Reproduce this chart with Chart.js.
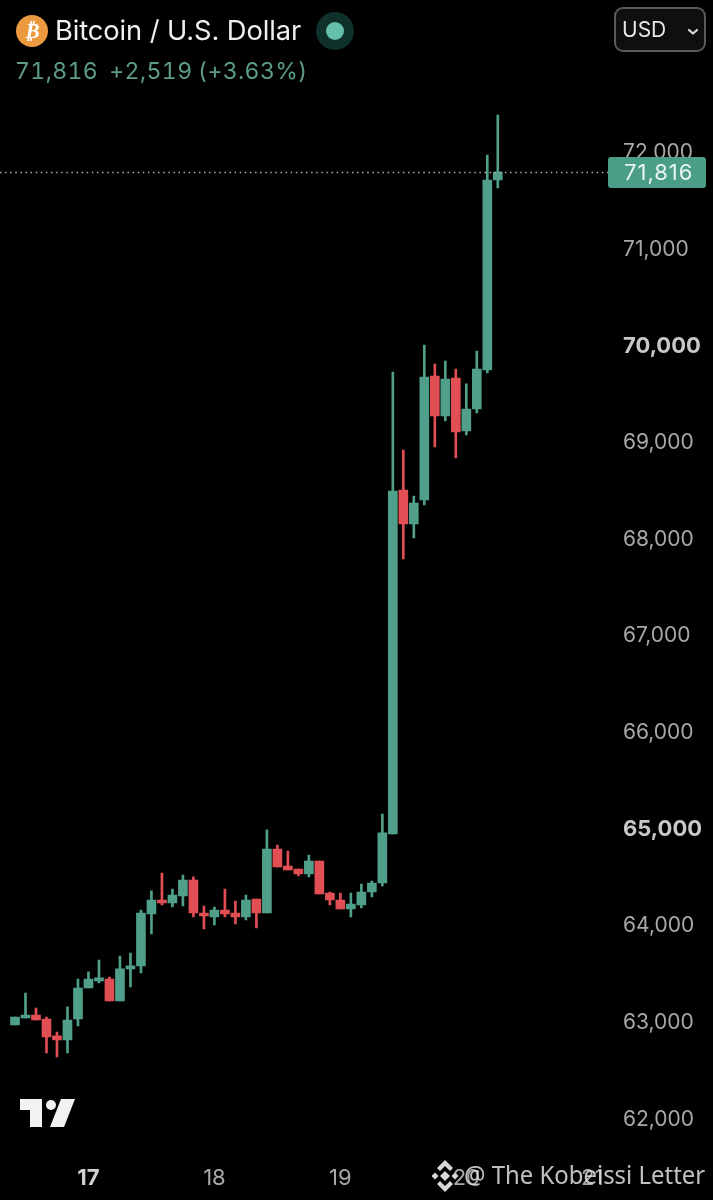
<!DOCTYPE html>
<html><head><meta charset="utf-8">
<script src="https://cdn.jsdelivr.net/npm/chart.js@4"></script>
<style>
html,body{margin:0;padding:0;background:#000;width:713px;height:1200px;overflow:hidden}
#wrap{position:relative;width:713px;height:1200px;font-family:Inter,Roboto,sans-serif}
canvas{position:absolute;left:0;top:0}
.t{position:absolute;white-space:nowrap}
svg{position:absolute;left:0;top:0}
</style></head><body>
<div id="wrap">
<canvas id="c" width="713" height="1200" style="width:713px;height:1200px"></canvas>
<svg width="713" height="1200" viewBox="0 0 713 1200">
  <circle cx="32" cy="31" r="16" fill="#ec9a3f"/>
  <circle cx="335" cy="31" r="19" fill="#10302b"/>
  <circle cx="335" cy="31" r="9" fill="#66bfa9"/>
  <rect x="615" y="8" width="90" height="43" rx="8" fill="#0f0f0f" stroke="#5a5a5a" stroke-width="2"/>
  <path d="M689 30l4 3.5l4-3.5" fill="none" stroke="#ddd" stroke-width="2.2" stroke-linecap="round" stroke-linejoin="round"/>
  <g fill="#f2f2f2">
    <path d="M20 1099H42V1127H30V1110H20Z"/>
    <circle cx="51" cy="1105" r="5"/>
    <path d="M61 1099H75L64 1127H50Z"/>
  </g>
  <g fill="#d8d8d8" stroke="none">
    <path d="M445 1160l8 8l-3 3l-5-5l-5 5l-3-3z"/>
    <path d="M445 1192l8-8l-3-3l-5 5l-5-5l-3 3z"/>
    <path d="M445 1171l5 5l-5 5l-5-5z"/>
    <path d="M435 1172.500l3.500 3.500l-3.500 3.500l-3.500-3.500z"/>
    <path d="M455 1172.500l3.500 3.500l-3.500 3.500l-3.500-3.500z"/>
  </g>
</svg>
<div class="t" style="left:23px;top:17px;width:18px;text-align:center;font:italic bold 21px 'DejaVu Sans';color:#fff;line-height:28px">₿</div>
<div class="t" style="left:55px;top:14px;font-size:27.300px;line-height:34px;color:#efefef;letter-spacing:-0.1px">Bitcoin / U.S. Dollar</div>
<div class="t" style="left:15px;top:57px;font-size:23px;line-height:28px;color:#5c9c88;letter-spacing:0.4px;word-spacing:-1px;font-variant-numeric:tabular-nums">71,816&nbsp; +2,519 (+3.63%)</div>
<div class="t" style="left:622px;top:16px;font-size:21px;line-height:28px;color:#e8e8e8">USD</div>
<div class="t" style="left:464px;top:1157px;font:26px 'Noto Sans';line-height:34px;color:rgba(225,225,225,.85);transform-origin:0 0;transform:scaleX(.92)">@ The Kobeissi Letter</div>
</div>
<script>
const slotLabels = ["","","","","","","","17","","","","","","","","","","","","18","","","","","","","","","","","","19","","","","","","","","","","","","20","","","","","","","","","","","","21",""];
const opens  = [62976,63048,63079,63037,62862,62820,63037,63358,63431,63451,63224,63555,63586,64124,64268,64237,64310,64475,64134,64093,64165,64134,64093,64279,64134,64796,64620,64589,64537,64672,64341,64268,64175,64217,64351,64444,64951,68510,68158,68406,69689,69275,69669,69120,69348,69751,71717];
const highs  = [63058,63306,63151,63058,62903,63162,63451,63524,63648,63472,63689,63720,64165,64362,64548,64382,64527,64507,64206,64196,64382,64258,64320,64279,64993,64837,64775,64589,64734,64672,64351,64341,64341,64434,64465,65158,69731,68924,68448,70010,69813,69844,69762,69607,69948,71976,72389];
const lows   = [62976,63048,63027,62686,62644,62686,62965,63358,63410,63224,63224,63368,63513,63917,64217,64196,64206,64093,63968,64010,64093,64020,64062,63979,64134,64610,64579,64517,64507,64331,64217,64175,64093,64186,64300,64413,64951,67796,68013,68355,68955,69224,68841,69079,69307,69720,71634];
const closes = [63058,63079,63027,62851,62820,63027,63358,63451,63462,63224,63555,63586,64134,64268,64237,64320,64475,64134,64103,64165,64124,64093,64268,64134,64796,64610,64579,64537,64672,64331,64268,64175,64227,64351,64444,64962,68500,68158,68375,69679,69275,69658,69110,69348,69762,71717,71800];
const lastPriceLabel = "71,816";
const boldPriceTicks = [65000,70000];
const boldDayLabels = ["17"];
const UP="#4f9f8a", DOWN="#e14f55", FONT="Inter, Roboto, sans-serif";
const colors = opens.map((o,i)=>closes[i]>=o?UP:DOWN);

const overlay = {
  id:"overlay",
  afterDatasetsDraw(ch){
    const {ctx,chartArea:a,scales:{y}}=ch;
    const py=y.getPixelForValue(closes[closes.length-1]);
    ctx.save();
    ctx.strokeStyle="#b0b0b0";ctx.lineWidth=1.5;ctx.setLineDash([1.5,3.6]);
    ctx.beginPath();ctx.moveTo(0,Math.round(py)+.5);ctx.lineTo(a.right,Math.round(py)+.5);ctx.stroke();
    ctx.restore();
  },
  afterDraw(ch){
    const {ctx,chartArea:a,scales:{y}}=ch;
    const py=y.getPixelForValue(closes[closes.length-1]);
    ctx.save();
    ctx.fillStyle="#4a9d87";
    ctx.beginPath();ctx.roundRect(a.right,py-15,98,31,3);ctx.fill();
    ctx.fillStyle="#e9f5f1";ctx.font="22px "+FONT;ctx.letterSpacing="1px";ctx.textAlign="left";ctx.textBaseline="middle";
    ctx.fillText(lastPriceLabel,624,py+1);
    ctx.restore();
  }
};

new Chart(document.getElementById("c"),{
  type:"bar",
  data:{labels:slotLabels,datasets:[
    {label:"wick",data:lows.map((l,i)=>[l,highs[i]]),backgroundColor:colors,barThickness:2,grouped:false,order:2,borderWidth:0},
    {label:"body",data:opens.map((o,i)=>[o,closes[i]]),backgroundColor:colors,barThickness:9,grouped:false,order:1,borderWidth:0}
  ]},
  options:{
    responsive:false,animation:false,devicePixelRatio:1,
    layout:{padding:{top:90},autoPadding:false},
    plugins:{legend:{display:false},tooltip:{enabled:false}},
    scales:{
      x:{type:"category",offset:true,grid:{display:false,drawTicks:false},border:{display:false},
        afterFit(s){s.height=50},
        ticks:{autoSkip:false,maxRotation:0,minRotation:0,padding:15,
          color:c=>boldDayLabels.includes(c.tick?.label)?"#d0d0d0":"#a8a8a8",
          font:c=>({family:FONT,size:22,weight:boldDayLabels.includes(c.tick?.label)?"bold":"normal"})}},
      y:{position:"right",min:61682,max:72648,grid:{display:false,drawTicks:false},border:{display:false},
        afterBuildTicks(s){s.ticks=[];for(let v=62000;v<=72000;v+=1000)s.ticks.push({value:v})},
        afterFit(s){s.width=105},
        ticks:{padding:15,crossAlign:"near",
          callback:v=>v.toLocaleString("en-US"),
          color:c=>boldPriceTicks.includes(c.tick?.value)?"#c8c8c8":"#a8a8a8",
          font:c=>({family:FONT,size:boldPriceTicks.includes(c.tick?.value)?22:21,weight:boldPriceTicks.includes(c.tick?.value)?"bold":"normal"})}}
    }
  },
  plugins:[overlay]
});
</script>
</body></html>
